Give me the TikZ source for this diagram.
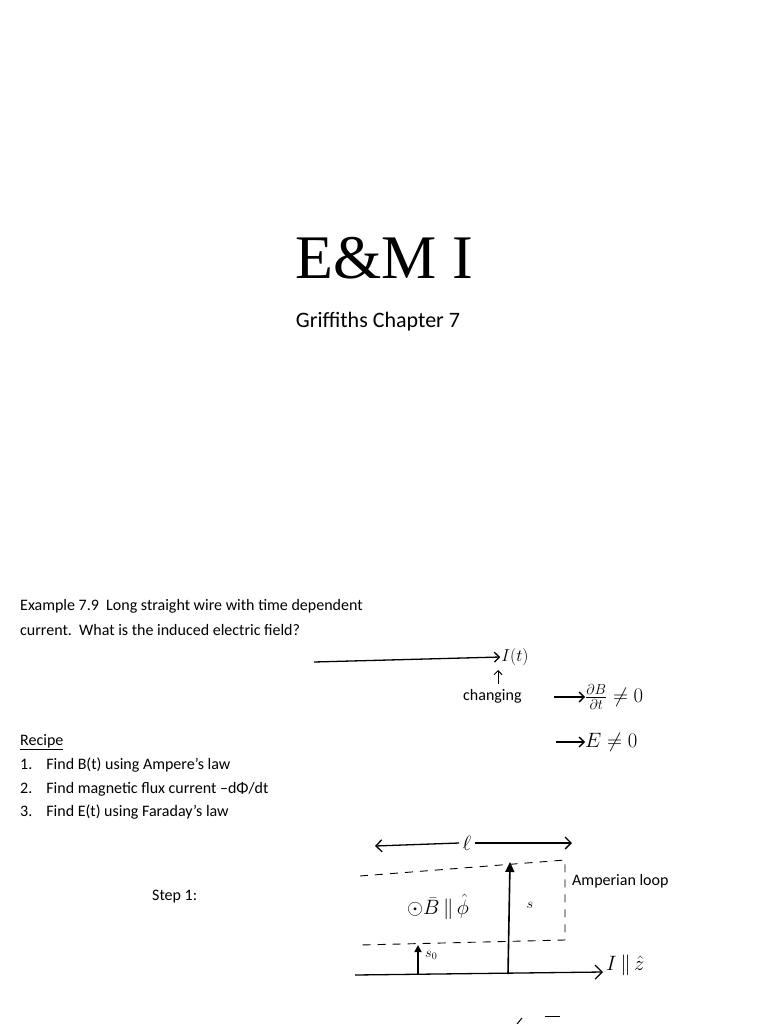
\documentclass[tikz,border=0pt]{standalone}
\usepackage{fontspec}
\setmainfont{Carlito}
\newfontfamily\titlefont{Liberation Serif}
\usetikzlibrary{arrows.meta}
\begin{document}
\begin{tikzpicture}[x=1pt,y=-1pt,
  txt/.style={anchor=west,inner sep=0pt,font=\fontsize{16}{19}\selectfont},
  hand/.style={line width=1.3pt},
  loopline/.style={dash pattern=on 8pt off 7pt,line width=0.9pt}]
\useasboundingbox (0,0) rectangle (768,1024);
\fill[white] (0,0) rectangle (768,1024);
\node[inner sep=0pt,font=\titlefont\fontsize{62}{70}\selectfont] (title) at (384,258) {E\&M I};
\node[inner sep=0pt,font=\fontsize{22}{26}\selectfont] (sub) at (378,322) {Griffiths Chapter 7};
\node[txt] (ex1) at (20,606) {Example 7.9\ \ Long straight wire with time dependent};
\node[txt] (ex2) at (20,630) {current.\ \ What is the induced electric field?};
% wire
\coordinate (w0) at (314,662);
\node[inner sep=1pt,font=\fontsize{18}{20}\selectfont] (It) at (515,657) {$I(t)$};
\draw[hand,-{Straight Barb[length=5pt]}] (w0) -- (It.west);
\node[txt] (chg) at (463,696) {changing};
\coordinate (ca) at (498,684);
\coordinate (cb) at (498,670);
\draw[line width=0.9pt,-{Straight Barb[length=4pt]}] (ca) -- (cb);
\node[inner sep=0pt,anchor=west,font=\fontsize{20}{22}\selectfont] (dB) at (585,697) {$\frac{\partial B}{\partial t}\neq 0$};
\coordinate (c1) at (554,697);
\draw[hand,-{Straight Barb[length=5pt]}] (c1) -- (dB.west);
\node[inner sep=0pt,anchor=west,font=\fontsize{20}{22}\selectfont] (E0) at (585,742) {$E\neq 0$};
\coordinate (c2) at (556,742);
\draw[hand,-{Straight Barb[length=5pt]}] (c2) -- (E0.west);
% recipe
\node[txt] (rec) at (20,742) {\underline{Recipe}};
\node[txt] (r1) at (20,765) {1.\hspace{14pt}Find B(t) using Ampere’s law};
\node[txt] (r2) at (20,789) {2.\hspace{14pt}Find magnetic flux current –dΦ/dt};
\node[txt] (r3) at (20,812) {3.\hspace{14pt}Find E(t) using Faraday’s law};
\node[txt] (st) at (152,897) {Step 1:};
% sketch
\coordinate (a0) at (355,975); \coordinate (a1) at (603,972);
\draw[hand,-{Straight Barb[length=7pt]}] (a0) -- (a1);
\node[inner sep=0pt,anchor=west,font=\fontsize{22}{24}\selectfont] (Iz) at (606,965) {$I\,\|\,\hat{z}$};
\coordinate (s0) at (508,974); \coordinate (s1) at (510,862);
\draw[line width=1.6pt,-{Triangle[length=10pt,width=9pt]}] (s0) -- (s1);
\node[font=\fontsize{15}{16}\selectfont] (s) at (530,905) {$s$};
\coordinate (p0) at (418,974); \coordinate (p1) at (418,945);
\draw[line width=1.6pt,-{Triangle[length=7pt,width=7pt]}] (p0) -- (p1);
\node[anchor=west,inner sep=1pt,font=\fontsize{14}{15}\selectfont] (so) at (424,955) {$s_0$};
\node[inner sep=0pt,font=\fontsize{22}{24}\selectfont] (B) at (438,907) {$\odot\bar{B}\,\|\,\hat\phi$};
% loop
\coordinate (l1) at (360,876); \coordinate (l2) at (565,860);
\coordinate (l3) at (565,940); \coordinate (l4) at (360,945);
\draw[loopline] (l1) -- (l2) -- (l3) -- (l4);
\node[txt] (amp) at (572,881) {Amperian loop};
% l arrows
\node[font=\fontsize{20}{22}\selectfont] (ell) at (467,843) {$\ell$};
\coordinate (e0) at (375,846); \coordinate (e1) at (572,843);
\draw[hand,-{Straight Barb[length=6pt]}] (ell.west) -- (e0);
\draw[hand,-{Straight Barb[length=6pt]}] (ell.east) -- (e1);
% bottom partial
\coordinate (bb0) at (522,1018); \coordinate (bb1) at (517,1024);
\draw[line width=1pt] (bb0) -- (bb1);
\coordinate (bc0) at (545,1016); \coordinate (bc1) at (560,1016);
\draw[line width=1pt] (bc0) -- (bc1);
\end{tikzpicture}
\end{document}
